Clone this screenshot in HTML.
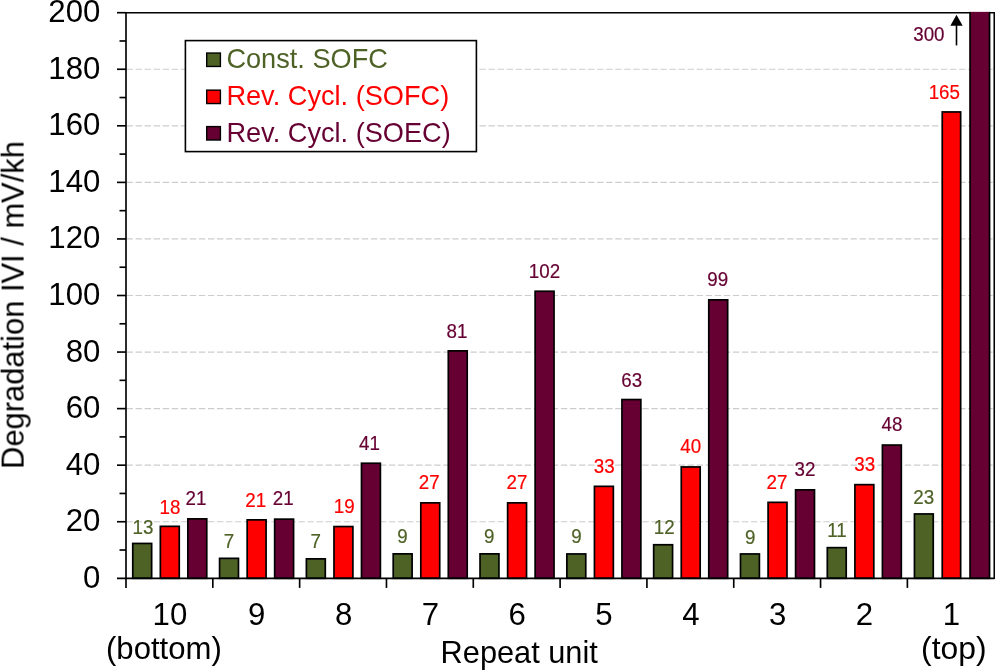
<!DOCTYPE html>
<html lang="en"><head><meta charset="utf-8"><title>Degradation per repeat unit</title>
<style>html,body{margin:0;padding:0;background:#fff;}body{width:995px;height:671px;overflow:hidden;}svg{display:block;}text{font-family:"Liberation Sans", Arial, Helvetica, sans-serif;}</style></head><body>
<svg width="995" height="671" viewBox="0 0 995 671">
<defs><filter id="soft" x="0" y="0" width="995" height="671" filterUnits="userSpaceOnUse"><feGaussianBlur stdDeviation="0.42"/></filter></defs>
<rect x="0" y="0" width="995" height="671" fill="#ffffff"/>
<g filter="url(#soft)">
<g stroke="#cdcdcd" stroke-width="1.2" stroke-dasharray="6.4 2.65" fill="none">
<line x1="126.5" y1="521.74" x2="994.3" y2="521.74"/>
<line x1="126.5" y1="465.18" x2="994.3" y2="465.18"/>
<line x1="126.5" y1="408.62" x2="994.3" y2="408.62"/>
<line x1="126.5" y1="352.06" x2="994.3" y2="352.06"/>
<line x1="126.5" y1="295.50" x2="994.3" y2="295.50"/>
<line x1="126.5" y1="238.94" x2="994.3" y2="238.94"/>
<line x1="126.5" y1="182.38" x2="994.3" y2="182.38"/>
<line x1="126.5" y1="125.82" x2="994.3" y2="125.82"/>
<line x1="126.5" y1="69.26" x2="994.3" y2="69.26"/>
</g>
<path d="M126.00 12.70 H994.30 V579.05" stroke="#000" stroke-width="1.65" fill="none"/>
<g stroke="#000" stroke-width="1.7">
<rect x="132.75" y="543.45" width="18.90" height="34.85" fill="#4f6228"/>
<rect x="160.35" y="526.35" width="18.90" height="51.95" fill="#ff0000"/>
<rect x="187.85" y="518.85" width="18.90" height="59.45" fill="#660033"/>
<rect x="219.57" y="558.35" width="18.90" height="19.95" fill="#4f6228"/>
<rect x="247.17" y="519.85" width="18.90" height="58.45" fill="#ff0000"/>
<rect x="274.67" y="519.15" width="18.90" height="59.15" fill="#660033"/>
<rect x="306.39" y="558.85" width="18.90" height="19.45" fill="#4f6228"/>
<rect x="333.99" y="526.55" width="18.90" height="51.75" fill="#ff0000"/>
<rect x="361.49" y="463.25" width="18.90" height="115.05" fill="#660033"/>
<rect x="393.21" y="553.85" width="18.90" height="24.45" fill="#4f6228"/>
<rect x="420.81" y="502.85" width="18.90" height="75.45" fill="#ff0000"/>
<rect x="448.31" y="350.85" width="18.90" height="227.45" fill="#660033"/>
<rect x="480.03" y="553.85" width="18.90" height="24.45" fill="#4f6228"/>
<rect x="507.63" y="502.85" width="18.90" height="75.45" fill="#ff0000"/>
<rect x="535.13" y="291.25" width="18.90" height="287.05" fill="#660033"/>
<rect x="566.85" y="553.95" width="18.90" height="24.35" fill="#4f6228"/>
<rect x="594.45" y="486.35" width="18.90" height="91.95" fill="#ff0000"/>
<rect x="621.95" y="399.55" width="18.90" height="178.75" fill="#660033"/>
<rect x="653.67" y="544.75" width="18.90" height="33.55" fill="#4f6228"/>
<rect x="681.27" y="466.95" width="18.90" height="111.35" fill="#ff0000"/>
<rect x="708.77" y="299.85" width="18.90" height="278.45" fill="#660033"/>
<rect x="740.49" y="553.95" width="18.90" height="24.35" fill="#4f6228"/>
<rect x="768.09" y="502.35" width="18.90" height="75.95" fill="#ff0000"/>
<rect x="795.59" y="489.85" width="18.90" height="88.45" fill="#660033"/>
<rect x="827.31" y="547.65" width="18.90" height="30.65" fill="#4f6228"/>
<rect x="854.91" y="484.65" width="18.90" height="93.65" fill="#ff0000"/>
<rect x="882.41" y="445.05" width="18.90" height="133.25" fill="#660033"/>
<rect x="914.45" y="513.95" width="18.80" height="64.35" fill="#4f6228"/>
<rect x="942.25" y="111.95" width="18.40" height="466.35" fill="#ff0000"/>
<rect x="970.05" y="5.85" width="19.50" height="572.45" fill="#660033"/>
</g>
<rect x="960" y="0" width="35" height="11.85" fill="#fff"/>
<g stroke="#000" stroke-width="1.65" fill="none">
<line x1="126.00" y1="11.95" x2="126.00" y2="587.90"/>
<line x1="117.00" y1="578.30" x2="994.30" y2="578.30"/>
<line x1="119.50" y1="550.02" x2="126.00" y2="550.02"/>
<line x1="117.00" y1="521.74" x2="126.00" y2="521.74"/>
<line x1="119.50" y1="493.46" x2="126.00" y2="493.46"/>
<line x1="117.00" y1="465.18" x2="126.00" y2="465.18"/>
<line x1="119.50" y1="436.90" x2="126.00" y2="436.90"/>
<line x1="117.00" y1="408.62" x2="126.00" y2="408.62"/>
<line x1="119.50" y1="380.34" x2="126.00" y2="380.34"/>
<line x1="117.00" y1="352.06" x2="126.00" y2="352.06"/>
<line x1="119.50" y1="323.78" x2="126.00" y2="323.78"/>
<line x1="117.00" y1="295.50" x2="126.00" y2="295.50"/>
<line x1="119.50" y1="267.22" x2="126.00" y2="267.22"/>
<line x1="117.00" y1="238.94" x2="126.00" y2="238.94"/>
<line x1="119.50" y1="210.66" x2="126.00" y2="210.66"/>
<line x1="117.00" y1="182.38" x2="126.00" y2="182.38"/>
<line x1="119.50" y1="154.10" x2="126.00" y2="154.10"/>
<line x1="117.00" y1="125.82" x2="126.00" y2="125.82"/>
<line x1="119.50" y1="97.54" x2="126.00" y2="97.54"/>
<line x1="117.00" y1="69.26" x2="126.00" y2="69.26"/>
<line x1="119.50" y1="40.98" x2="126.00" y2="40.98"/>
<line x1="117.00" y1="12.70" x2="126.00" y2="12.70"/>
<line x1="212.82" y1="578.30" x2="212.82" y2="587.90"/>
<line x1="299.64" y1="578.30" x2="299.64" y2="587.90"/>
<line x1="386.46" y1="578.30" x2="386.46" y2="587.90"/>
<line x1="473.28" y1="578.30" x2="473.28" y2="587.90"/>
<line x1="560.10" y1="578.30" x2="560.10" y2="587.90"/>
<line x1="646.92" y1="578.30" x2="646.92" y2="587.90"/>
<line x1="733.74" y1="578.30" x2="733.74" y2="587.90"/>
<line x1="820.56" y1="578.30" x2="820.56" y2="587.90"/>
<line x1="907.38" y1="578.30" x2="907.38" y2="587.90"/>
</g>
<g font-size="31.8" fill="#000" text-anchor="end">
<text transform="translate(100.3 587.80) scale(0.980 1)">0</text>
<text transform="translate(100.3 531.24) scale(0.980 1)">20</text>
<text transform="translate(100.3 474.68) scale(0.980 1)">40</text>
<text transform="translate(100.3 418.12) scale(0.980 1)">60</text>
<text transform="translate(100.3 361.56) scale(0.980 1)">80</text>
<text transform="translate(100.3 305.00) scale(0.980 1)">100</text>
<text transform="translate(100.3 248.44) scale(0.980 1)">120</text>
<text transform="translate(100.3 191.88) scale(0.980 1)">140</text>
<text transform="translate(100.3 135.32) scale(0.980 1)">160</text>
<text transform="translate(100.3 78.76) scale(0.980 1)">180</text>
<text transform="translate(100.3 22.20) scale(0.980 1)">200</text>
</g>
<g font-size="31.8" fill="#000" text-anchor="middle">
<text transform="translate(169.91 624.6) scale(0.980 1)">10</text>
<text transform="translate(256.73 624.6) scale(0.980 1)">9</text>
<text transform="translate(343.55 624.6) scale(0.980 1)">8</text>
<text transform="translate(430.37 624.6) scale(0.980 1)">7</text>
<text transform="translate(517.19 624.6) scale(0.980 1)">6</text>
<text transform="translate(604.01 624.6) scale(0.980 1)">5</text>
<text transform="translate(690.83 624.6) scale(0.980 1)">4</text>
<text transform="translate(777.65 624.6) scale(0.980 1)">3</text>
<text transform="translate(864.47 624.6) scale(0.980 1)">2</text>
<text transform="translate(951.29 624.6) scale(0.980 1)">1</text>
<text font-size="30.8" transform="translate(163.9 659.2) scale(1.01 1)">(bottom)</text>
<text font-size="30.8" transform="translate(953.8 659.2) scale(1.035 1)">(top)</text>
<text font-size="32" transform="translate(519.2 663.2) scale(0.961 1)">Repeat unit</text>
</g>
<text font-size="30.8" fill="#000" text-anchor="middle" transform="translate(23.6 305.0) rotate(-90) scale(1.003 1)">Degradation IVI / mV/kh</text>
<rect x="185.4" y="40.6" width="291" height="111" fill="#fff" stroke="#000" stroke-width="1.6"/>
<rect x="206.7" y="53.05" width="13.7" height="13.4" fill="#4f6228" stroke="#000" stroke-width="1.4"/>
<text font-size="26.8" fill="#4f6228" transform="translate(226.4 68.00) scale(1.014 1)">Const. SOFC</text>
<rect x="206.7" y="90.15" width="13.7" height="13.4" fill="#ff0000" stroke="#000" stroke-width="1.4"/>
<text font-size="26.8" fill="#ff0000" transform="translate(226.4 104.60) scale(1.014 1)">Rev. Cycl. (SOFC)</text>
<rect x="206.7" y="126.60" width="13.7" height="13.4" fill="#660033" stroke="#000" stroke-width="1.4"/>
<text font-size="26.8" fill="#660033" transform="translate(226.4 141.70) scale(1.014 1)">Rev. Cycl. (SOEC)</text>
<g font-size="20.2" text-anchor="middle">
<text transform="translate(142.9 533.5) scale(0.93 1)" fill="#4f6228" stroke="#4f6228" stroke-width="0.2">13</text>
<text transform="translate(170.0 513.8) scale(0.93 1)" fill="#ff0000" stroke="#ff0000" stroke-width="0.2">18</text>
<text transform="translate(196.0 505.3) scale(0.93 1)" fill="#660033" stroke="#660033" stroke-width="0.2">21</text>
<text transform="translate(229.0 548.1) scale(0.93 1)" fill="#4f6228" stroke="#4f6228" stroke-width="0.2">7</text>
<text transform="translate(255.7 507.1) scale(0.93 1)" fill="#ff0000" stroke="#ff0000" stroke-width="0.2">21</text>
<text transform="translate(283.3 505.3) scale(0.93 1)" fill="#660033" stroke="#660033" stroke-width="0.2">21</text>
<text transform="translate(315.6 548.4) scale(0.93 1)" fill="#4f6228" stroke="#4f6228" stroke-width="0.2">7</text>
<text transform="translate(344.2 512.6) scale(0.93 1)" fill="#ff0000" stroke="#ff0000" stroke-width="0.2">19</text>
<text transform="translate(369.4 450.0) scale(0.93 1)" fill="#660033" stroke="#660033" stroke-width="0.2">41</text>
<text transform="translate(402.4 542.9) scale(0.93 1)" fill="#4f6228" stroke="#4f6228" stroke-width="0.2">9</text>
<text transform="translate(429.2 488.9) scale(0.93 1)" fill="#ff0000" stroke="#ff0000" stroke-width="0.2">27</text>
<text transform="translate(457.0 337.7) scale(0.93 1)" fill="#660033" stroke="#660033" stroke-width="0.2">81</text>
<text transform="translate(489.3 543.2) scale(0.93 1)" fill="#4f6228" stroke="#4f6228" stroke-width="0.2">9</text>
<text transform="translate(516.9 488.9) scale(0.93 1)" fill="#ff0000" stroke="#ff0000" stroke-width="0.2">27</text>
<text transform="translate(544.5 278.3) scale(0.93 1)" fill="#660033" stroke="#660033" stroke-width="0.2">102</text>
<text transform="translate(576.5 542.9) scale(0.93 1)" fill="#4f6228" stroke="#4f6228" stroke-width="0.2">9</text>
<text transform="translate(604.2 472.6) scale(0.93 1)" fill="#ff0000" stroke="#ff0000" stroke-width="0.2">33</text>
<text transform="translate(631.8 386.6) scale(0.93 1)" fill="#660033" stroke="#660033" stroke-width="0.2">63</text>
<text transform="translate(664.3 533.6) scale(0.93 1)" fill="#4f6228" stroke="#4f6228" stroke-width="0.2">12</text>
<text transform="translate(690.7 453.2) scale(0.93 1)" fill="#ff0000" stroke="#ff0000" stroke-width="0.2">40</text>
<text transform="translate(717.8 286.3) scale(0.93 1)" fill="#660033" stroke="#660033" stroke-width="0.2">99</text>
<text transform="translate(750.3 543.6) scale(0.93 1)" fill="#4f6228" stroke="#4f6228" stroke-width="0.2">9</text>
<text transform="translate(777.0 488.7) scale(0.93 1)" fill="#ff0000" stroke="#ff0000" stroke-width="0.2">27</text>
<text transform="translate(805.0 476.2) scale(0.93 1)" fill="#660033" stroke="#660033" stroke-width="0.2">32</text>
<text transform="translate(836.9 536.7) scale(0.93 1)" fill="#4f6228" stroke="#4f6228" stroke-width="0.2">11</text>
<text transform="translate(864.7 471.0) scale(0.93 1)" fill="#ff0000" stroke="#ff0000" stroke-width="0.2">33</text>
<text transform="translate(891.9 431.3) scale(0.93 1)" fill="#660033" stroke="#660033" stroke-width="0.2">48</text>
<text transform="translate(923.8 503.8) scale(0.93 1)" fill="#4f6228" stroke="#4f6228" stroke-width="0.2">23</text>
<text transform="translate(944.3 98.9) scale(0.93 1)" fill="#ff0000" stroke="#ff0000" stroke-width="0.2">165</text>
<text transform="translate(928.9 41.0) scale(0.93 1)" fill="#660033" stroke="#660033" stroke-width="0.2">300</text>
</g>
<path d="M956.5 45.4 V24" stroke="#000" stroke-width="1.6" fill="none"/>
<path d="M956.5 14.8 L962.7 25.8 H950.3 Z" fill="#000"/>
</g>
</svg></body></html>
